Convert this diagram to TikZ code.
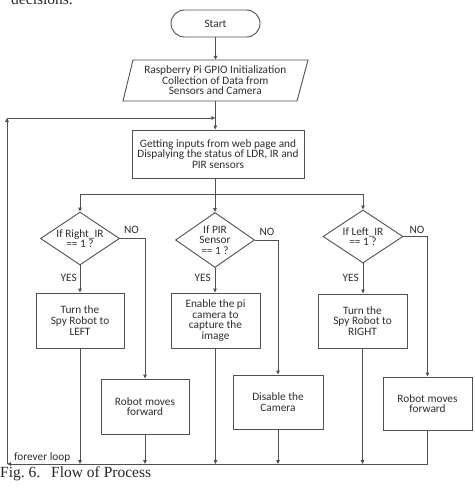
\documentclass[tikz,border=0pt]{standalone}
\usepackage{fontspec}
\setmainfont{Carlito}
\newfontfamily\capfont{Liberation Serif}
\usetikzlibrary{arrows.meta,shapes.geometric}
\definecolor{ln}{HTML}{505050}
\definecolor{txt}{HTML}{2E2E2E}
\begin{document}
\begin{tikzpicture}[x=1pt,y=-1pt,
  every node/.style={font=\fontsize{11.3}{10.6}\selectfont, text=txt},
  line/.style={draw=ln, line width=0.9pt},
  arr/.style={draw=ln, line width=0.9pt, -{Triangle[length=4pt,width=3.6pt]}},
  box/.style={draw=ln, line width=0.9pt, rectangle, align=center, inner sep=0pt},
  dec/.style={draw=ln, line width=0.9pt, diamond, align=center, inner sep=-1pt, shape aspect=1.5},
  lab/.style={inner sep=0pt},
  captext/.style={font=\capfont\fontsize{15.5}{16}\selectfont, inner sep=0pt, text=black!85}]
\useasboundingbox (0,0) rectangle (474,492);
\fill[white] (0,0) rectangle (474,492);
% cut-off text at the top (as in the reference)
\node[captext, anchor=base east] (prev) at (73,4.5) {decisions.};
% start
\node[box, rounded corners=13.5pt, minimum width=89pt, minimum height=27pt] (start) at (215.5,23.5) {Start};
% initialization (parallelogram)
\draw[line] (133,60) -- (308,60) -- (297,101) -- (123,101) -- cycle;
\node[lab, align=center, minimum width=175pt, minimum height=41pt] (init) at (215.25,80.5)
  {Raspberry Pi GPIO Initialization\\Collection of Data from\\Sensors and Camera};
% inputs
\node[box, minimum width=172pt, minimum height=48pt] (inp) at (218,154)
  {Getting inputs from web page and\\Dispalying the status of LDR, IR and\\PIR sensors};
% decisions
\node[dec, minimum width=79pt, minimum height=53pt] (d1) at (80,238.5) {If Right\_IR\\== 1 ?};
\node[dec, minimum width=79pt, minimum height=55pt] (d2) at (215,240) {If PIR\\Sensor\\== 1 ?};
\node[dec, minimum width=80pt, minimum height=53pt] (d3) at (363,236.5) {If Left\_IR\\== 1 ?};
% yes boxes
\node[box, minimum width=88pt, minimum height=55pt] (b1) at (80,320.5) {Turn the\\Spy Robot to\\LEFT};
\node[box, minimum width=89pt, minimum height=55pt] (b2) at (215.5,320.5) {Enable the pi\\camera to\\capture the\\image};
\node[box, minimum width=89pt, minimum height=54pt] (b3) at (362.5,321) {Turn the\\Spy Robot to\\RIGHT};
% no boxes
\node[box, minimum width=88pt, minimum height=55pt] (c1) at (145,406.5) {Robot moves\\forward};
\node[box, minimum width=90pt, minimum height=54pt] (c2) at (278,402) {Disable the\\Camera};
\node[box, minimum width=89pt, minimum height=53pt] (c3) at (427.5,403.5) {Robot moves\\forward};
% labels
\node[lab, anchor=east] (y1) at (77,278) {YES};
\node[lab, anchor=east] (y2) at (211,278) {YES};
\node[lab, anchor=east] (y3) at (359,278) {YES};
\node[lab] (n1) at (131.5,230) {NO};
\node[lab] (n2) at (267,232) {NO};
\node[lab] (n3) at (417,230) {NO};
\node[lab, anchor=west] (fl) at (14,457) {forever loop};
% caption
\node[captext, anchor=base west] (caption) at (0,477) {Fig.~6.\hspace{11pt}Flow of Process};
% helper coordinates
\coordinate (br) at (215,194);
\coordinate (bl) at (7,464);
\coordinate (tl) at (7,118);
% connectors
\draw[arr] (start.south) -- (start.south |- init.north);
\draw[arr] (init.south) -- (init.south |- inp.north);
\draw[line] (br |- inp.south) -- (br);
\draw[arr] (br) -- (br |- d2.north);
\draw[arr] (br) -| (d1.north);
\draw[arr] (br) -| (d3.north);
\draw[arr] (d1.south) -- (b1.north);
\draw[arr] (d2.south) -- (d2.south |- b2.north);
\draw[arr] (d3.south) -- (d3.south |- b3.north);
\draw[arr] (d1.east) -| (c1.north);
\draw[arr] (d2.east) -| (c2.north);
\draw[arr] (d3.east) -| (c3.north);
\draw[arr] (b1.south) -- (b1.south |- bl);
\draw[arr] (b2.south) -- (b2.south |- bl);
\draw[arr] (b3.south) -- (b3.south |- bl);
\draw[arr] (c1.south) -- (c1.south |- bl);
\draw[arr] (c2.south) -- (c2.south |- bl);
\draw[line] (c3.south) -- (c3.south |- bl);
\draw[arr] (c3.south |- bl) -- (bl);
\draw[arr] (bl) -- (tl);
\draw[arr] (tl) -- (tl -| init.south);
\end{tikzpicture}
\end{document}
